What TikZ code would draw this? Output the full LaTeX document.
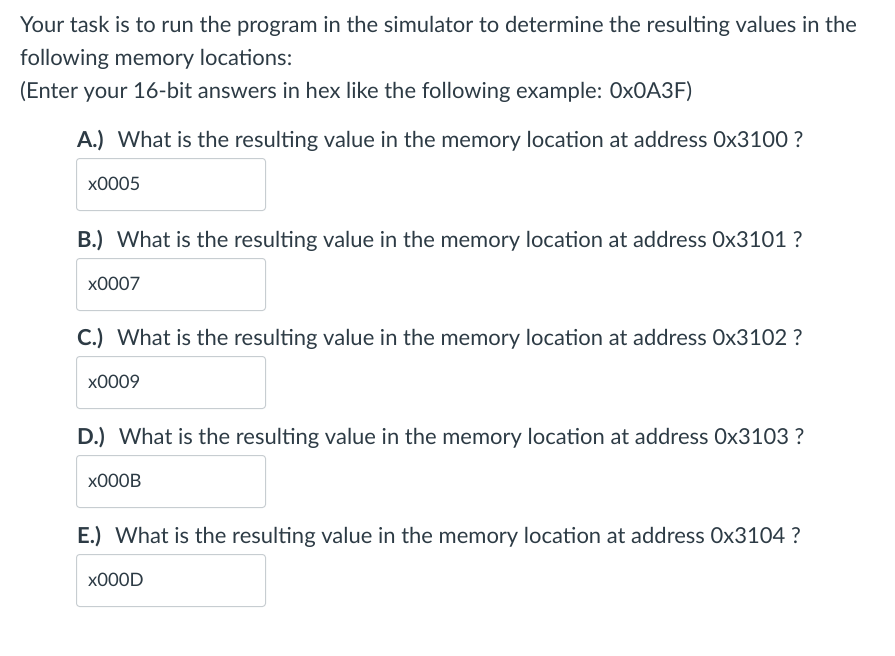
\documentclass[tikz,border=0pt]{standalone}
\usepackage{fontspec}
\setmainfont{Lato}
\begin{document}
\begin{tikzpicture}[x=1pt,y=-1pt,
  txt/.style={anchor=west,inner sep=0pt,text=tc,font=\fontsize{22}{26}\selectfont},
  ans/.style={draw=bc,rounded corners=3pt,line width=1pt,minimum width=189pt,minimum height=52pt,anchor=north west,inner sep=0pt},
  anstxt/.style={anchor=west,inner sep=0pt,text=tc,font=\fontsize{18.5}{22}\selectfont}]
\definecolor{tc}{HTML}{2D3B45}
\definecolor{bc}{HTML}{C7CDD1}
\useasboundingbox (0,0) rectangle (895,656);
\node[txt] (l1) at (20,26) {Your task is to run the program in the simulator to determine the resulting values in the};
\node[txt] (l2) at (20,59) {following memory locations:};
\node[txt] (l3) at (20,92) {(Enter your 16-bit answers in hex like the following example: 0x0A3F)};
\foreach \L/\addr/\val/\y [count=\i] in {A/3100/x0005/140,B/3101/x0007/240,C/3102/x0009/338,D/3103/x000B/437,E/3104/x000D/536}{
  \node[txt] (q\i) at (77,\y+1) {\textbf{\L.)}\hspace{14pt}What is the resulting value in the memory location at address 0x\addr\ ?};
  \node[ans] (b\i) at (76,\y+18) {};
  \node[anstxt] (a\i) at (88,\y+44) {\val};
}
\end{tikzpicture}
\end{document}
